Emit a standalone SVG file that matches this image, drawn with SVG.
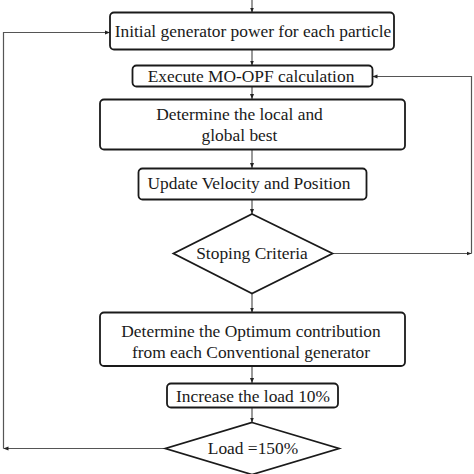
<svg xmlns="http://www.w3.org/2000/svg" width="474" height="474" viewBox="0 0 474 474">
<style>
.box{fill:#fff;stroke:#1a1a1a;stroke-width:1.8}
.dia{fill:#fff;stroke:#1a1a1a;stroke-width:1.8}
.t{font-family:"Liberation Serif","Times New Roman",serif;font-size:17.4px;fill:#1a1a1a;text-anchor:middle;dominant-baseline:central}
.c{fill:none;stroke:#555;stroke-width:1.2}
</style>
<defs>
<marker id="ah" viewBox="0 0 10 10" refX="10" refY="5" markerWidth="5" markerHeight="5" orient="auto" markerUnits="userSpaceOnUse">
<path d="M0,1 L10,5 L0,9 z" fill="#222"/>
</marker>
</defs>
<rect width="474" height="474" fill="#fff"/>
<g id="connectors">
<path class="c" d="M252,0 V12.5" marker-end="url(#ah)"/>
<path class="c" d="M252,49.5 V65.5" marker-end="url(#ah)"/>
<path class="c" d="M252,86.5 V99" marker-end="url(#ah)"/>
<path class="c" d="M252,149.5 V168" marker-end="url(#ah)"/>
<path class="c" d="M252,199.5 V214" marker-end="url(#ah)"/>
<path class="c" d="M252,293.5 V312.5" marker-end="url(#ah)"/>
<path class="c" d="M252,366 V383" marker-end="url(#ah)"/>
<path class="c" d="M252,407.5 V422.5" marker-end="url(#ah)"/>
<path class="c" d="M332.5,253.5 H471.5" marker-end="url(#ah)"/>
<path class="c" d="M471.5,253.5 V76.5 H372.5" marker-end="url(#ah)"/>
<path class="c" d="M165.5,448.5 H3.5" marker-end="url(#ah)"/>
<path class="c" d="M3.5,448.5 V32.5 H110" marker-end="url(#ah)"/>
</g>
<g id="n1">
<rect class="box" x="110" y="12.5" width="284" height="37" rx="4"/>
<text class="t" x="253" y="31">Initial generator power for each particle</text>
</g>
<g id="n2">
<rect class="box" x="132.5" y="65.5" width="240" height="21" rx="4"/>
<text class="t" x="251" y="76">Execute MO-OPF calculation</text>
</g>
<g id="n3">
<rect class="box" x="100" y="99.5" width="305" height="50" rx="4"/>
<text class="t" x="239.5" y="113.5">Determine the local and</text>
<text class="t" x="239.5" y="134.5">global best</text>
</g>
<g id="n4">
<rect class="box" x="138.5" y="168.5" width="228" height="31" rx="4"/>
<text class="t" x="249" y="183">Update Velocity and Position</text>
</g>
<g id="n5">
<polygon class="dia" points="252,214 332.5,253.5 252,293.5 173.5,253.5"/>
<text class="t" x="252" y="253">Stoping Criteria</text>
</g>
<g id="n6">
<rect class="box" x="100" y="312.5" width="305" height="53.5" rx="4"/>
<text class="t" x="251" y="331">Determine the Optimum contribution</text>
<text class="t" x="251" y="352">from each Conventional generator</text>
</g>
<g id="n7">
<rect class="box" x="167" y="383.5" width="171" height="24" rx="4"/>
<text class="t" x="253" y="395.5">Increase the load 10%</text>
</g>
<g id="n8">
<polygon class="dia" points="252,422.5 339,448.5 252,474.5 165.5,448.5"/>
<text class="t" x="253" y="448">Load =150%</text>
</g>
</svg>
